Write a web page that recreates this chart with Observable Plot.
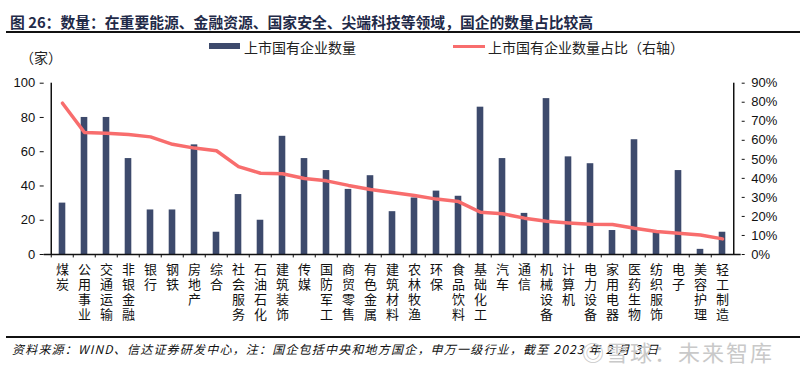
<!DOCTYPE html>
<html><head><meta charset="utf-8">
<script src="https://cdn.jsdelivr.net/npm/d3@7"></script>
<script src="https://cdn.jsdelivr.net/npm/@observablehq/plot@0.6"></script>
<style>
body{margin:0;background:#fff;width:800px;height:375px;overflow:hidden;position:relative;font-family:"Noto Sans CJK SC",sans-serif;}
.abs{position:absolute;white-space:nowrap;}
#chart{position:absolute;left:0;top:60px;}
</style></head><body>
<div id="chart"></div>
<div class="abs" style="left:10px;top:12px;font-size:14.8px;font-weight:bold;color:#1f2a48;line-height:20px;">图 26：数量：在重要能源、金融资源、国家安全、尖端科技等领域，国企的数量占比较高</div>
<div class="abs" style="left:6px;top:31px;width:794px;height:2px;background:#111;"></div>
<div class="abs" style="left:209px;top:43px;width:31px;height:6px;background:#3d4a6c;"></div>
<div class="abs" style="left:244px;top:37px;font-size:14px;line-height:20px;color:#222;">上市国有企业数量</div>
<div class="abs" style="left:453px;top:45px;width:32px;height:3px;background:#f86d6d;"></div>
<div class="abs" style="left:488px;top:37px;font-size:14px;line-height:20px;color:#222;">上市国有企业数量占比（右轴）</div>
<div class="abs" style="left:20px;top:47px;font-size:14px;line-height:20px;color:#222;">（家）</div>
<div class="abs" style="left:6px;top:336px;width:794px;height:2px;background:#111;"></div>
<div class="abs" style="left:12px;top:340px;font-size:12px;line-height:18px;font-style:italic;color:#111;letter-spacing:1.2px;">资料来源：WIND、信达证券研发中心，注：国企包括中央和地方国企，申万一级行业，截至 2023 年 2 月 3 日</div>
<div class="abs" style="left:582px;top:337px;font-size:22px;line-height:28px;color:#c9c9c9;letter-spacing:2px;">◎雪球：未来智库</div>
<script>
const categories = ["煤炭","公用事业","交通运输","非银金融","银行","钢铁","房地产","综合","社会服务","石油石化","建筑装饰","传媒","国防军工","商贸零售","有色金属","建筑材料","农林牧渔","环保","食品饮料","基础化工","汽车","通信","机械设备","计算机","电力设备","家用电器","医药生物","纺织服饰","电子","美容护理","轻工制造"];
const counts = [30,80,80,56,26,26,64,13,35,20,69,56,49,38,46,25,33,37,34,86,56,24,91,57,53,14,67,13,49,3,13];
const shares = [79.5,64.1,63.7,63.0,61.8,57.9,55.9,54.5,46.2,42.7,42.4,39.9,38.7,36.3,34.2,32.6,31.0,29.1,27.8,22.2,21.4,19.1,17.5,16.6,15.9,15.8,13.8,12.1,11.2,10.2,8.2];
const leftTicks = [0,20,40,60,80,100];
const rightTicks = [0,10,20,30,40,50,60,70,80,90];

const data = categories.map((c,i)=>({name:c,count:counts[i],share:shares[i]}));
const W = 800, H = 280, ML = 43.7, MR = 59.3;
const bw = (W - ML - MR) / categories.length;
const toLeft = p => p / 90 * 100;

const chart = Plot.plot({
  width: W, height: H,
  marginLeft: ML, marginRight: MR, marginTop: 22.7, marginBottom: 86,
  style: {fontFamily: "Liberation Sans, Arial, sans-serif", fontSize: "13px", color: "#111", background: "#fff"},
  x: {type: "band", domain: categories, padding: 0, label: null},
  y: {domain: [0, 100], label: null},
  marks: [
    Plot.barY(data, {x: "name", y: "count", fill: "#3d4a6c", insetLeft: 7.7, insetRight: 7.7}),
    Plot.lineY(data, {x: "name", y: d => toLeft(d.share), stroke: "#f86d6d", strokeWidth: 3.5, strokeLinejoin: "round"}),
    Plot.ruleY([0], {stroke: "#111", strokeWidth: 1.5}),
    Plot.ruleX([categories[0]], {dx: -bw/2, y1: 0, y2: 100, stroke: "#111", strokeWidth: 1.5}),
    Plot.ruleX([categories[categories.length-1]], {dx: bw/2, y1: 0, y2: 100, stroke: "#111", strokeWidth: 1.5}),
    Plot.ruleX(categories, {dx: -bw/2, y1: 0, y2: -2, stroke: "#111"}),
    Plot.axisY({anchor: "left", ticks: leftTicks, tickSize: 4, tickPadding: 5, label: null, fontSize: 13}),
    Plot.axisY({anchor: "right", ticks: rightTicks.map(toLeft), tickFormat: d => Math.round(d * 0.9) + "%", tickSize: 3, tickPadding: 7, label: null, fontSize: 13}),
    Plot.axisX({anchor: "bottom", tickSize: 0, tickPadding: 9, label: null, fontSize: 13, lineHeight: 1.15,
      fontFamily: "Noto Sans CJK SC", tickFormat: d => d.split("").join("\n")})
  ]
});
document.getElementById("chart").appendChild(chart);
</script>
</body></html>
